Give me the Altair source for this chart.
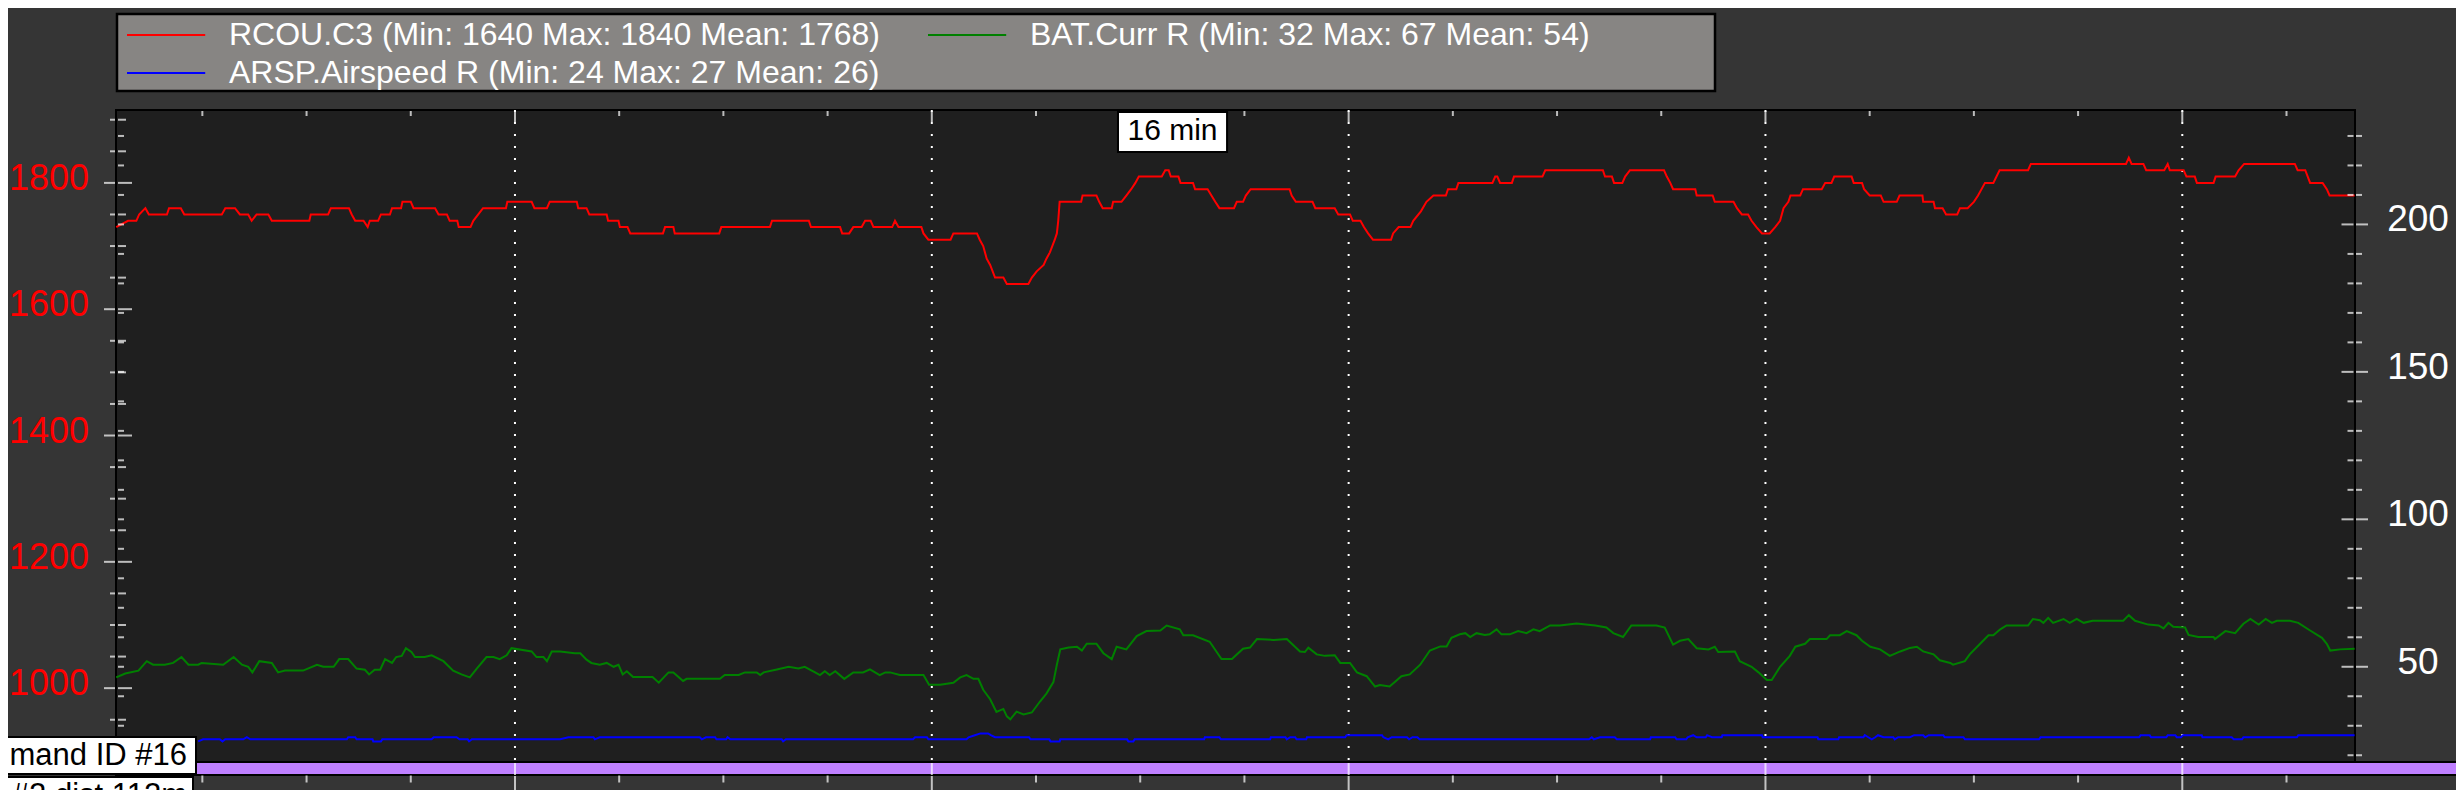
import altair as alt
import pandas as pd

FONT = "Liberation Sans"
OUTER_BG = "#353535"
PLOT_BG = "#1f1f1f"
LEGEND_BG = "#878583"
MODE_PURPLE = "#bf80ff"

RCOU_NAME = "RCOU.C3 (Min: 1640 Max: 1840 Mean: 1768)"
BAT_NAME = "BAT.Curr R (Min: 32 Max: 67 Mean: 54)"
ARSP_NAME = "ARSP.Airspeed R (Min: 24 Max: 27 Mean: 26)"
# legend fills column by column: RCOU, ARSP in the first column, BAT in the second
series_names = [RCOU_NAME, ARSP_NAME, BAT_NAME]
series_colors = ["#ff0000", "#0000ff", "#008000"]

# time in seconds, value pairs
rcou = [
    (782.6, 1730), (784.3, 1740), (785.5, 1740), (785.9, 1750), (786.8, 1760), (787.3, 1750), (789.9, 1750),
    (790.2, 1760), (791.9, 1760), (792.4, 1750), (797.8, 1750), (798.3, 1760), (799.7, 1760), (800.4, 1750),
    (801.6, 1750), (802.1, 1740), (802.8, 1750), (804.5, 1750), (805.0, 1740), (810.4, 1740), (810.6, 1750),
    (813.1, 1750), (813.5, 1760), (816.1, 1760), (816.5, 1750), (817.0, 1740), (818.2, 1740), (818.8, 1730),
    (819.1, 1740), (820.3, 1740), (820.7, 1750), (822.0, 1750), (822.3, 1760), (823.6, 1760), (823.8, 1770),
    (825.0, 1770), (825.4, 1760), (828.5, 1760), (829.0, 1750), (830.2, 1750), (830.6, 1740), (831.7, 1740),
    (831.9, 1730), (833.6, 1730), (834.0, 1740), (835.4, 1760), (838.7, 1760), (838.9, 1770), (842.4, 1770),
    (842.8, 1760), (844.6, 1760), (845.0, 1770), (848.9, 1770), (849.1, 1760), (850.3, 1760), (850.7, 1750),
    (853.2, 1750), (853.4, 1740), (854.9, 1740), (855.1, 1730), (856.2, 1730), (856.6, 1720), (861.3, 1720),
    (861.6, 1730), (862.8, 1730), (863.0, 1720), (869.4, 1720), (869.7, 1730), (876.7, 1730), (877.0, 1740),
    (882.3, 1740), (882.6, 1730), (886.8, 1730), (887.1, 1720), (888.1, 1720), (888.7, 1730), (889.9, 1730),
    (890.4, 1740), (891.2, 1740), (891.6, 1730), (894.3, 1730), (894.7, 1740), (895.2, 1730), (898.5, 1730),
    (898.8, 1720), (899.5, 1710), (902.7, 1710), (903.1, 1720), (906.5, 1720), (906.9, 1710), (907.4, 1700),
    (907.9, 1680), (908.4, 1670), (909.1, 1650), (910.3, 1650), (910.8, 1640), (913.9, 1640), (914.4, 1650),
    (915.1, 1660), (916.1, 1670), (916.5, 1680), (917.0, 1690), (917.7, 1710), (918.0, 1720), (918.2, 1740),
    (918.4, 1770), (921.5, 1770), (921.7, 1780), (923.7, 1780), (924.1, 1770), (924.6, 1760), (925.9, 1760),
    (926.1, 1770), (927.3, 1770), (928.0, 1780), (928.7, 1790), (929.3, 1800), (929.8, 1810), (933.1, 1810),
    (933.6, 1820), (934.1, 1820), (934.4, 1810), (935.5, 1810), (935.8, 1800), (937.6, 1800), (937.9, 1790),
    (939.7, 1790), (940.8, 1770), (941.4, 1760), (943.5, 1760), (943.9, 1770), (944.8, 1770), (945.2, 1780),
    (945.9, 1790), (951.5, 1790), (951.8, 1780), (952.4, 1770), (954.8, 1770), (955.2, 1760), (958.0, 1760),
    (958.5, 1750), (960.2, 1750), (960.6, 1740), (961.7, 1740), (962.2, 1730), (962.8, 1720), (963.5, 1710),
    (966.1, 1710), (966.4, 1720), (967.2, 1730), (968.9, 1730), (969.3, 1740), (970.4, 1755), (971.2, 1770),
    (972.2, 1780), (974.0, 1780), (974.3, 1790), (975.5, 1790), (975.8, 1800), (980.7, 1800), (981.1, 1810),
    (981.4, 1810), (981.8, 1800), (983.5, 1800), (983.8, 1810), (987.9, 1810), (988.3, 1820), (996.6, 1820),
    (996.9, 1810), (997.9, 1810), (998.2, 1800), (999.4, 1800), (999.8, 1810), (1000.5, 1820), (1005.4, 1820),
    (1005.8, 1810), (1006.3, 1800), (1006.7, 1790), (1009.9, 1790), (1010.1, 1780), (1012.4, 1780),
    (1012.7, 1770), (1015.4, 1770), (1015.9, 1760), (1016.6, 1750), (1017.5, 1750), (1018.0, 1740),
    (1018.7, 1730), (1019.5, 1720), (1020.6, 1720), (1021.4, 1730), (1022.1, 1740), (1022.6, 1760),
    (1023.3, 1770), (1023.6, 1780), (1025.0, 1780), (1025.4, 1790), (1028.1, 1790), (1028.6, 1800),
    (1029.5, 1800), (1029.9, 1810), (1032.4, 1810), (1032.7, 1800), (1033.9, 1800), (1034.2, 1790),
    (1035.0, 1780), (1036.6, 1780), (1037.0, 1770), (1038.9, 1770), (1039.3, 1780), (1042.6, 1780),
    (1042.7, 1770), (1044.2, 1770), (1044.4, 1760), (1045.5, 1760), (1046.0, 1750), (1047.6, 1750),
    (1048.0, 1760), (1049.1, 1760), (1050.0, 1770), (1050.6, 1780), (1051.6, 1800), (1052.8, 1800),
    (1053.7, 1820), (1057.8, 1820), (1058.2, 1830), (1071.9, 1830), (1072.3, 1840), (1072.7, 1830),
    (1074.4, 1830), (1074.8, 1820), (1077.4, 1820), (1077.9, 1830), (1078.2, 1820), (1080.2, 1820),
    (1080.6, 1810), (1081.8, 1810), (1082.1, 1800), (1084.5, 1800), (1084.8, 1810), (1087.6, 1810),
    (1088.1, 1820), (1088.9, 1830), (1096.2, 1830), (1096.6, 1820), (1097.7, 1820), (1098.4, 1800),
    (1100.2, 1800), (1100.8, 1790), (1101.2, 1780), (1104.8, 1780),
]

bat_curr = [
    (782.6, 46.4), (783.9, 47.7), (785.8, 48.7), (787.0, 51.9), (787.9, 50.7), (789.6, 50.7), (790.8, 51.3),
    (792.0, 53.3), (793.0, 50.7), (794.4, 50.7), (794.9, 51.3), (798.0, 50.7), (799.5, 53.3), (800.7, 50.7),
    (801.6, 50.0), (802.2, 48.1), (803.2, 51.9), (805.0, 51.3), (805.9, 48.1), (806.9, 48.7), (809.5, 48.7),
    (811.5, 50.7), (812.4, 50.0), (813.9, 50.0), (814.7, 52.6), (816.0, 52.6), (817.2, 49.4), (818.4, 49.0),
    (819.0, 47.4), (819.8, 49.0), (820.6, 49.0), (821.3, 52.6), (822.3, 51.3), (822.9, 53.3), (823.7, 53.7),
    (824.3, 56.3), (825.1, 55.0), (825.6, 53.3), (827.0, 53.3), (828.0, 53.9), (829.7, 51.9), (831.1, 48.7),
    (832.3, 47.4), (833.5, 46.4), (834.5, 49.4), (835.9, 53.3), (836.9, 53.3), (837.8, 52.6), (838.8, 53.9),
    (839.5, 56.3), (842.4, 55.2), (843.1, 53.3), (844.1, 53.3), (844.6, 51.9), (845.3, 55.2), (846.5, 55.2),
    (848.6, 54.6), (849.4, 54.6), (850.3, 52.4), (851.0, 51.3), (852.2, 50.7), (853.2, 51.3), (854.2, 50.0),
    (854.9, 50.7), (855.5, 47.4), (856.1, 48.5), (857.0, 46.5), (859.8, 46.5), (860.7, 44.6), (862.1, 48.1),
    (862.8, 48.1), (864.2, 45.2), (864.7, 45.9), (869.5, 45.9), (870.2, 47.2), (872.2, 47.2), (873.1, 48.1),
    (874.8, 48.1), (875.3, 47.2), (875.8, 48.1), (877.7, 49.1), (879.4, 50.0), (880.8, 49.4), (881.7, 50.0),
    (883.2, 48.1), (883.9, 47.2), (884.6, 48.5), (885.3, 47.2), (886.1, 48.5), (887.4, 45.9), (888.7, 48.1),
    (890.1, 48.1), (891.1, 49.1), (892.5, 47.2), (893.3, 48.1), (894.0, 48.1), (895.4, 47.2), (898.8, 47.2),
    (899.6, 43.9), (901.2, 43.9), (903.1, 44.6), (904.1, 46.4), (905.0, 47.2), (906.0, 45.9), (906.7, 45.9),
    (907.4, 42.2), (908.4, 39.0), (909.3, 34.7), (910.3, 35.7), (910.8, 33.2), (911.3, 32.2), (912.2, 34.8),
    (913.2, 33.8), (914.4, 34.5), (915.6, 38.3), (916.5, 40.9), (917.5, 44.8), (918.0, 50.7), (918.5, 55.9),
    (919.7, 56.5), (920.9, 56.8), (921.6, 55.5), (922.3, 57.8), (923.7, 57.8), (924.7, 54.6), (925.9, 52.6),
    (926.6, 56.8), (928.0, 55.9), (929.5, 60.4), (930.9, 62.1), (932.9, 62.3), (933.8, 64.0), (935.7, 62.7),
    (936.2, 60.7), (937.6, 60.7), (940.0, 58.5), (941.7, 52.6), (943.2, 52.6), (944.8, 56.1), (945.8, 56.5),
    (946.8, 59.4), (949.2, 59.1), (951.1, 59.4), (953.0, 55.2), (953.7, 55.0), (954.2, 56.5), (955.4, 54.2),
    (956.6, 53.7), (958.0, 53.9), (958.8, 51.3), (960.2, 51.3), (961.2, 48.1), (962.6, 46.8), (963.8, 43.3),
    (964.5, 43.8), (965.9, 43.3), (967.6, 46.8), (968.8, 47.4), (970.3, 50.7), (971.7, 55.5), (973.2, 56.9),
    (974.1, 56.9), (974.8, 59.8), (976.0, 61.0), (976.8, 61.4), (977.5, 60.1), (978.4, 61.4), (979.6, 60.8),
    (980.3, 61.0), (981.3, 62.7), (982.0, 61.0), (983.2, 61.0), (984.4, 62.1), (985.6, 61.4), (986.6, 62.7),
    (987.5, 62.1), (989.0, 64.0), (990.4, 64.0), (992.8, 64.7), (995.5, 64.0), (997.1, 63.3), (998.1, 61.4),
    (999.5, 60.1), (1000.7, 64.0), (1004.3, 64.0), (1005.5, 63.3), (1006.7, 57.5), (1007.7, 58.8),
    (1008.9, 59.4), (1010.1, 56.3), (1011.8, 55.9), (1012.7, 56.8), (1013.2, 55.0), (1015.6, 55.2),
    (1016.3, 51.9), (1018.0, 50.0), (1019.0, 48.1), (1020.2, 45.5), (1020.9, 45.5), (1022.1, 50.0),
    (1023.5, 53.7), (1024.3, 56.8), (1025.7, 57.8), (1026.4, 59.4), (1028.8, 59.4), (1029.3, 60.7),
    (1030.7, 60.7), (1031.7, 62.1), (1033.1, 60.7), (1033.9, 58.8), (1035.1, 56.8), (1036.5, 55.9),
    (1037.9, 53.7), (1039.4, 55.2), (1040.8, 56.4), (1041.8, 56.8), (1042.7, 55.2), (1044.2, 54.2),
    (1045.1, 52.2), (1046.6, 51.3), (1047.0, 50.7), (1048.7, 51.9), (1049.4, 54.2), (1050.9, 57.8),
    (1052.1, 60.7), (1052.8, 60.7), (1053.8, 62.7), (1054.7, 64.0), (1057.8, 64.0), (1058.5, 66.2),
    (1059.5, 65.8), (1060.0, 64.9), (1060.7, 66.6), (1061.4, 64.9), (1062.9, 66.2), (1063.8, 64.9),
    (1064.8, 66.2), (1065.8, 64.9), (1067.1, 65.6), (1071.5, 65.6), (1072.3, 67.5), (1073.2, 65.6),
    (1075.1, 64.3), (1076.6, 64.0), (1077.3, 63.0), (1078.0, 64.9), (1078.7, 63.6), (1080.4, 63.3),
    (1080.9, 60.8), (1082.3, 60.1), (1084.5, 60.1), (1084.7, 59.4), (1086.2, 62.1), (1087.6, 61.4),
    (1088.8, 64.6), (1089.8, 66.2), (1091.0, 64.3), (1092.0, 66.2), (1092.9, 64.9), (1093.6, 65.6),
    (1095.5, 65.6), (1096.7, 64.9), (1098.4, 62.3), (1100.1, 59.8), (1100.8, 57.8), (1101.3, 55.5),
    (1102.7, 55.9), (1104.8, 56.1),
]

arsp = [
    (794.4, 24.7), (795.1, 25.4), (797.5, 25.4), (797.9, 24.7), (798.3, 25.4), (800.9, 25.4), (801.4, 26.1),
    (801.9, 25.4), (815.8, 25.4), (816.0, 26.1), (817.0, 26.1), (817.2, 25.4), (819.5, 25.4), (819.6, 24.7),
    (820.7, 24.7), (820.9, 25.4), (828.0, 25.4), (828.3, 26.1), (831.6, 26.1), (832.0, 25.4), (833.2, 25.4),
    (833.4, 24.7), (833.8, 25.4), (846.5, 25.4), (847.7, 26.1), (851.3, 26.1), (851.5, 25.4), (852.2, 26.1),
    (866.6, 26.1), (866.9, 25.4), (867.5, 26.1), (868.8, 26.1), (869.0, 25.4), (870.4, 25.4), (870.6, 26.1),
    (871.0, 25.4), (878.4, 25.4), (878.6, 24.7), (879.0, 25.4), (897.3, 25.4), (897.6, 26.1), (899.3, 26.1),
    (899.5, 25.4), (905.0, 25.4), (905.3, 26.1), (906.2, 26.8), (907.0, 27.4), (908.1, 27.4), (908.5, 26.8),
    (909.1, 26.1), (914.0, 26.1), (914.2, 25.4), (916.9, 25.4), (917.1, 24.7), (918.4, 24.7), (918.5, 25.4),
    (928.1, 25.4), (928.3, 24.7), (929.0, 24.7), (929.2, 25.4), (939.2, 25.4), (939.3, 26.1), (941.4, 26.1),
    (941.6, 25.4), (948.7, 25.4), (948.8, 26.1), (950.9, 26.1), (951.1, 25.4), (951.6, 26.1), (952.3, 26.1),
    (952.5, 25.4), (953.9, 25.4), (954.0, 26.1), (959.5, 26.1), (959.7, 26.8), (964.8, 26.8), (965.0, 26.1),
    (965.7, 25.4), (966.2, 26.1), (968.4, 26.1), (968.7, 25.4), (969.2, 26.1), (969.9, 26.1), (970.2, 25.4),
    (994.6, 25.4), (995.0, 26.1), (995.3, 25.4), (996.2, 26.1), (998.3, 26.1), (998.6, 25.4), (1003.4, 25.4),
    (1003.5, 26.1), (1007.0, 26.1), (1007.2, 25.4), (1008.6, 25.4), (1008.8, 26.1), (1009.6, 26.8),
    (1010.1, 26.1), (1011.4, 26.1), (1011.6, 26.8), (1012.3, 26.1), (1013.7, 26.1), (1013.8, 26.8),
    (1019.5, 26.8), (1019.6, 26.1), (1027.5, 26.1), (1027.6, 25.4), (1030.5, 25.4), (1030.6, 26.1),
    (1034.1, 26.1), (1034.3, 26.8), (1034.8, 26.1), (1035.3, 25.4), (1035.8, 26.1), (1036.2, 26.8),
    (1037.0, 26.1), (1038.4, 26.1), (1038.6, 25.4), (1039.1, 26.1), (1040.8, 26.1), (1041.4, 26.8),
    (1042.7, 26.8), (1043.0, 26.1), (1043.5, 26.8), (1045.6, 26.8), (1045.8, 26.1), (1048.5, 26.1),
    (1048.7, 25.4), (1059.4, 25.4), (1059.6, 26.1), (1073.8, 26.1), (1074.0, 26.8), (1075.3, 26.8),
    (1075.5, 26.1), (1077.7, 26.1), (1077.9, 26.8), (1079.0, 26.8), (1079.2, 26.1), (1079.8, 26.1),
    (1080.1, 26.8), (1082.8, 26.8), (1082.9, 26.1), (1087.1, 26.1), (1087.4, 25.4), (1088.6, 25.4),
    (1088.8, 26.1), (1096.5, 26.1), (1096.7, 26.8), (1104.8, 26.8),
]

# axes / ticks
x_major = [840, 900, 960, 1020, 1080]
x_minor = [795, 810, 825, 855, 870, 885, 915, 930, 945, 975, 990, 1005, 1035, 1050, 1065, 1095]
left_major = [1000, 1200, 1400, 1600, 1800]
left_minor = [900, 950, 1050, 1100, 1150, 1250, 1300, 1350, 1450, 1500, 1550, 1650, 1700,
              1750, 1850, 1900]
right_major = [50, 100, 150, 200]
right_minor = [20, 30, 40, 60, 70, 80, 90, 110, 120, 130, 140, 160, 170, 180, 190, 210, 220, 230]
right_all = sorted(right_major + right_minor)

time_marker = [{"t0": 926.8, "t1": 942.5, "tm": 934.65, "label": "16 min"}]
mode_band = [{"start": 782.57, "end": 1130.0}]
# message labels as they are visible at the left edge of the picture
msg_1 = ["mand ID #16"]
msg_2 = ["#2 dist 112m"]

W, H = 2239, 665
xs = alt.Scale(domain=[782.57, 1104.86], nice=False, zero=False)
yl = alt.Scale(domain=[862.5, 1915.4], nice=False, zero=False)
yr = alt.Scale(domain=[13.3, 238.8], nice=False, zero=False)

color_scale = alt.Scale(domain=series_names, range=series_colors)
legend = alt.Legend(title=None, orient="none", legendX=10, legendY=-93, columns=2,
                    columnPadding=44, rowPadding=4, padding=0,
                    symbolType="M-1,0H3.6", symbolSize=1156, symbolStrokeWidth=2,
                    labelFont=FONT, labelFontSize=32, labelColor="white", labelLimit=1500,
                    labelOffset=67)

red_df = pd.DataFrame(rcou, columns=["t", "v"]).assign(series=RCOU_NAME)
right_df = pd.concat([
    pd.DataFrame(bat_curr, columns=["t", "v"]).assign(series=BAT_NAME),
    pd.DataFrame(arsp, columns=["t", "v"]).assign(series=ARSP_NAME),
])


def hticks(values, scale, x_center, size):
    return alt.Chart(pd.DataFrame({"v": values})).mark_tick(
        orient="horizontal", color="white", size=size, thickness=2
    ).encode(x=alt.value(x_center), y=alt.Y("v:Q", scale=scale, axis=None))


def vticks(values, y_center, size):
    return alt.Chart(pd.DataFrame({"t": values})).mark_tick(
        orient="vertical", color="white", size=size, thickness=2
    ).encode(x=alt.X("t:Q", scale=xs, axis=None), y=alt.value(y_center))


def tick_labels(values, scale, x_pos, align, color, size):
    return alt.Chart(pd.DataFrame({"v": values})).mark_text(
        font=FONT, fontSize=size, color=color, align=align, baseline="middle", dy=-4
    ).encode(x=alt.value(x_pos), y=alt.Y("v:Q", scale=scale, axis=None),
             text=alt.Text("v:Q", format="d"))


grid = alt.Chart(pd.DataFrame({"t": x_major})).mark_rule(
    color="white", strokeWidth=2, strokeDash=[2, 10]
).encode(x=alt.X("t:Q", scale=xs, axis=None), y=alt.value(0), y2=alt.value(652))

red = alt.Chart(red_df).mark_line(strokeWidth=2).encode(
    x=alt.X("t:Q", scale=xs, axis=None),
    y=alt.Y("v:Q", scale=yl, axis=None),
    color=alt.Color("series:N", scale=color_scale, legend=legend),
)
left_group = alt.layer(
    red,
    hticks(left_major, yl, 9, 14),        # inner major
    hticks(left_minor, yl, 6, 8),         # inner minor
    hticks(left_major, yl, -6.5, 11),     # outer major
    hticks(left_minor, yl, -3.5, 5),      # outer minor
    tick_labels(left_major, yl, -27, "right", "#ff0000", 36),
)

gb = alt.Chart(right_df).mark_line(strokeWidth=2).encode(
    x=alt.X("t:Q", scale=xs, axis=None),
    y=alt.Y("v:Q", scale=yr, axis=None),
    color=alt.Color("series:N", scale=color_scale, legend=legend),
    detail="series:N",
)
right_group = alt.layer(
    gb,
    hticks(right_major, yr, W - 7.5, 12),   # inner major
    hticks(right_minor, yr, W - 4.5, 6),    # inner minor
    hticks(right_major, yr, W + 7, 12),     # outer major
    hticks(right_minor, yr, W + 4, 6),      # outer minor
    hticks(right_all, yr, 5, 6),            # mirrored on the left side
    tick_labels(right_major, yr, W + 63, "center", "white", 37),
)

band = alt.Chart(pd.DataFrame(mode_band)).mark_rect(
    fill=MODE_PURPLE, stroke="black", strokeWidth=2
).encode(x=alt.X("start:Q", scale=xs, axis=None), x2="end:Q", y=alt.value(652), y2=alt.value(665))

mk = alt.Chart(pd.DataFrame(time_marker))
mk_box = mk.mark_rect(fill="white", stroke="black", strokeWidth=2).encode(
    x=alt.X("t0:Q", scale=xs, axis=None), x2="t1:Q", y=alt.value(2), y2=alt.value(42))
mk_text = mk.mark_text(font=FONT, fontSize=30, color="black", align="center", baseline="middle").encode(
    x=alt.X("tm:Q", scale=xs, axis=None), y=alt.value(21), text="label:N")

lg_box = alt.Chart(pd.DataFrame({"k": [0]})).mark_rect(
    fill=LEGEND_BG, stroke="black", strokeWidth=2.5
).encode(x=alt.value(1), x2=alt.value(1599), y=alt.value(-96), y2=alt.value(-19))

m1 = alt.Chart(pd.DataFrame({"label": msg_1}))
m1_box = m1.mark_rect(fill="white", stroke="black", strokeWidth=2).encode(
    x=alt.value(-120), x2=alt.value(80), y=alt.value(627), y2=alt.value(664))
m1_text = m1.mark_text(font=FONT, fontSize=31, color="black", align="right", baseline="middle").encode(
    x=alt.value(71), y=alt.value(646), text="label:N")
m2 = alt.Chart(pd.DataFrame({"label": msg_2}))
m2_box = m2.mark_rect(fill="white", stroke="black", strokeWidth=2).encode(
    x=alt.value(-120), x2=alt.value(77), y=alt.value(667), y2=alt.value(705))
m2_text = m2.mark_text(font=FONT, fontSize=31, color="black", align="right", baseline="middle").encode(
    x=alt.value(71), y=alt.value(686), text="label:N")

chart = alt.layer(
    grid, left_group, right_group, band,
    vticks(x_major, 659, 12),          # bottom inner major, across the mode band
    vticks(x_major, 674, 16),          # bottom outer major
    vticks(x_minor, 669, 7),           # bottom outer minor
    vticks(x_minor, 3.5, 5),           # top inner minor
    vticks(x_major, 6.5, 11),          # top inner major
    mk_box, mk_text, lg_box, m1_box, m1_text, m2_box, m2_text,
).resolve_scale(y="independent").properties(
    width=W, height=H, background=OUTER_BG,
    padding={"left": 108, "top": 102, "right": 101, "bottom": 15},
    autosize=alt.AutoSizeParams(type="none"),
).configure(font=FONT).configure_view(fill=PLOT_BG, stroke="black", strokeWidth=2)

chart.save("out.html", embed_options={"renderer": "svg", "actions": False})
